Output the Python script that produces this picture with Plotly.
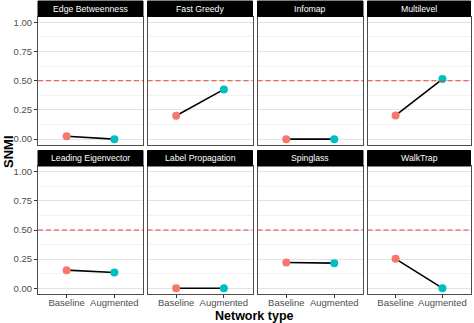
import plotly.graph_objects as go

# Community detection methods and their SNMI scores
methods = ["Edge Betweenness", "Fast Greedy", "Infomap", "Multilevel",
           "Leading Eigenvector", "Label Propagation", "Spinglass", "WalkTrap"]
network_types = ["Baseline", "Augmented"]
baseline = [0.025, 0.200, 0.000, 0.203, 0.155, 0.000, 0.221, 0.252]
augmented = [0.000, 0.426, 0.000, 0.514, 0.135, 0.000, 0.215, 0.000]
threshold = 0.5
y_ticks = [0.0, 0.25, 0.5, 0.75, 1.0]
y_ticklabels = ["0.00", "0.25", "0.50", "0.75", "1.00"]

W, H = 474, 323
col_x = [(38, 143), (147.5, 252.5), (257.5, 363), (367.5, 470.5)]
row_y = [(16.5, 145), (166, 294)]   # panel top/bottom in pixels
strip_h = 15.5

COLORS = {"Baseline": "#F8766D", "Augmented": "#00BFC4"}
FONT = "Liberation Sans, Arial, sans-serif"
TICKFONT = dict(family=FONT, size=9.5, color="#4D4D4D")

fig = go.Figure()
layout = {}
shapes = []
annotations = []

for i, m in enumerate(methods):
    r, c = divmod(i, 4)
    n = i + 1
    xa = "x" if n == 1 else f"x{n}"
    ya = "y" if n == 1 else f"y{n}"
    x0, x1 = col_x[c]
    top, bot = row_y[r]

    vals = [baseline[i], augmented[i]]
    fig.add_trace(go.Scatter(
        x=network_types, y=vals, mode="lines", xaxis=xa, yaxis=ya,
        line=dict(color="black", width=1.6), showlegend=False, hoverinfo="skip"))
    fig.add_trace(go.Scatter(
        x=network_types, y=vals, mode="markers", xaxis=xa, yaxis=ya,
        marker=dict(size=8, color=[COLORS[t] for t in network_types]),
        showlegend=False))

    layout["xaxis" if n == 1 else f"xaxis{n}"] = dict(
        domain=[x0 / W, x1 / W], anchor=ya, type="category",
        categoryorder="array", categoryarray=network_types,
        range=[-0.6, 1.6], showgrid=False, zeroline=False, automargin=False,
        showline=True, mirror=True, linecolor="#4d4d4d", linewidth=1,
        showticklabels=(r == 1), ticks="outside" if r == 1 else "",
        ticklen=3, tickcolor="#333333", tickwidth=1, tickangle=0,
        ticklabelstandoff=-3, tickfont=TICKFONT)
    layout["yaxis" if n == 1 else f"yaxis{n}"] = dict(
        domain=[1 - bot / H, 1 - top / H], anchor=xa, automargin=False,
        range=[-0.05, 1.05], tickvals=y_ticks, ticktext=y_ticklabels,
        showgrid=True, gridcolor="#E3E3E3", gridwidth=1, zeroline=False,
        minor=dict(tickvals=[0.125, 0.375, 0.625, 0.875], showgrid=True,
                   gridcolor="#F2F2F2", gridwidth=1, ticks=""),
        showline=True, mirror=True, linecolor="#4d4d4d", linewidth=1,
        showticklabels=(c == 0), ticks="outside" if c == 0 else "",
        ticklen=3, tickcolor="#333333", tickwidth=1, tickfont=TICKFONT)

    # reference line
    shapes.append(dict(type="line", xref=f"{xa} domain", yref=ya,
                       x0=0, x1=1, y0=threshold, y1=threshold,
                       line=dict(color="#E8453C", width=1.2, dash="5px,3px")))
    # facet strip
    shapes.append(dict(type="rect", xref="paper", yref="paper",
                       x0=x0 / W, x1=x1 / W,
                       y0=1 - top / H, y1=1 - (top - strip_h) / H,
                       fillcolor="black", line=dict(color="black", width=1)))
    annotations.append(dict(text=m, xref="paper", yref="paper",
                            x=(x0 + x1) / 2 / W, y=1 - (top - strip_h / 2) / H,
                            showarrow=False, xanchor="center", yanchor="middle",
                            font=dict(family=FONT, size=8.7, color="white")))

annotations.append(dict(text="<b>Network type</b>", xref="paper", yref="paper",
                        x=(col_x[0][0] + col_x[3][1]) / 2 / W, y=1 - 315.5 / H,
                        showarrow=False, xanchor="center", yanchor="middle",
                        font=dict(family=FONT, size=12.5, color="black")))
annotations.append(dict(text="<b>SNMI</b>", xref="paper", yref="paper",
                        x=8 / W, y=1 - 152 / H, textangle=-90,
                        showarrow=False, xanchor="center", yanchor="middle",
                        font=dict(family=FONT, size=13, color="black")))

fig.update_layout(width=W, height=H, margin=dict(l=0, r=0, t=0, b=0),
                  paper_bgcolor="white", plot_bgcolor="white",
                  shapes=shapes, annotations=annotations, **layout)
fig.write_html("out.html")
